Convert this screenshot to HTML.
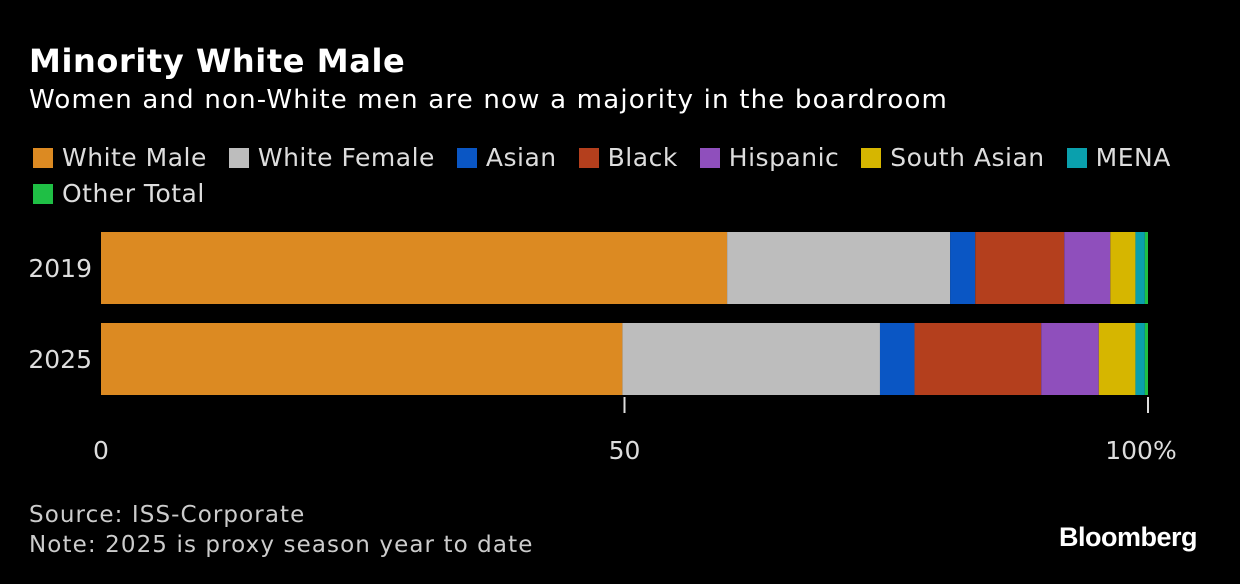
<!DOCTYPE html>
<html><head><meta charset="utf-8"><style>
body{margin:0;background:#000;width:1240px;height:584px;overflow:hidden;font-family:"DejaVu Sans","Liberation Sans",sans-serif;color:#e6e6e6}
.t{position:absolute;white-space:nowrap}
</style></head><body>
<div class="t" style="left:29px;top:42px;font-size:32px;font-weight:bold;color:#fff;letter-spacing:0.6px">Minority White Male</div>
<div class="t" style="left:29px;top:85px;font-size:26px;color:#fff;letter-spacing:1.2px">Women and non-White men are now a majority in the boardroom</div>
<div id="legend" style="position:absolute;left:33px;top:140px;width:1200px;font-size:25px;color:#ddd;line-height:36px;letter-spacing:0.5px"></div>
<svg id="chart" width="1240" height="584" style="position:absolute;left:0;top:0"></svg>
<div class="t" style="left:29px;top:500px;font-size:23px;color:#ccc;line-height:30px;letter-spacing:1.1px">Source: ISS-Corporate<br>Note: 2025 is proxy season year to date</div>
<div class="t" style="left:1059px;top:522px;font-size:27px;font-weight:bold;color:#fff;font-family:'Liberation Sans',sans-serif;letter-spacing:-0.5px">Bloomberg</div>
<script>
const categories=["2019","2025"];
const seriesNames=["White Male","White Female","Asian","Black","Hispanic","South Asian","MENA","Other Total"];
const colors=["#dc8a22","#bdbdbd","#0a56c4","#b43f1d","#8f4fbc","#d6b600","#0aa0ad","#1fbf45"];
const whiteMale=[59.8,49.8];
const whiteFemale=[21.3,24.6];
const asian=[2.4,3.3];
const black=[8.5,12.1];
const hispanic=[4.4,5.5];
const southAsian=[2.4,3.5];
const mena=[0.9,0.9];
const otherTotal=[0.3,0.3];
const tickValues=[0,50,100];
const tickLabels=["0","50","100%"];
const series=[whiteMale,whiteFemale,asian,black,hispanic,southAsian,mena,otherTotal];
const NS="http://www.w3.org/2000/svg";
const svg=document.getElementById('chart');
const x=v=>101+v*10.47;
const yTop=[232,323],bh=72;
function mk(t,a){const e=document.createElementNS(NS,t);for(const k in a)e.setAttribute(k,a[k]);svg.appendChild(e);return e;}
categories.forEach((c,i)=>{
  let acc=0;
  series.forEach((s,j)=>{
    const r=mk('rect',{x:x(acc),y:yTop[i],width:Math.max(0,x(acc+s[i])-x(acc)),height:bh,fill:colors[j]});
    
    
    acc+=s[i];
  });
  const t=mk('text',{x:92,y:yTop[i]+bh/2+9,'text-anchor':'end','font-size':25,fill:'#ddd','font-family':'DejaVu Sans,sans-serif'});
  t.textContent=c;
  
  
});
tickValues.forEach((v,i)=>{
  if(i>0){const l=mk('line',{x1:x(v),x2:x(v),y1:397,y2:413,stroke:'#ddd','stroke-width':2});
  
  }
  const t=mk('text',{x:x(v)+(i==2?-7:0),y:459,'text-anchor':'middle','font-size':25,fill:'#ddd','font-family':'DejaVu Sans,sans-serif'});
  t.textContent=tickLabels[i];
  
  
});
const lg=document.getElementById('legend');
seriesNames.forEach((n,j)=>{
  const s=document.createElement('span');
  
  
  s.style.cssText='display:inline-block;margin-right:22px;';
  s.innerHTML='<span style="display:inline-block;width:20px;height:20px;background:'+colors[j]+';margin-right:9px;vertical-align:-2px"></span>'+n;
  lg.appendChild(s);
});
</script>
</body></html>
